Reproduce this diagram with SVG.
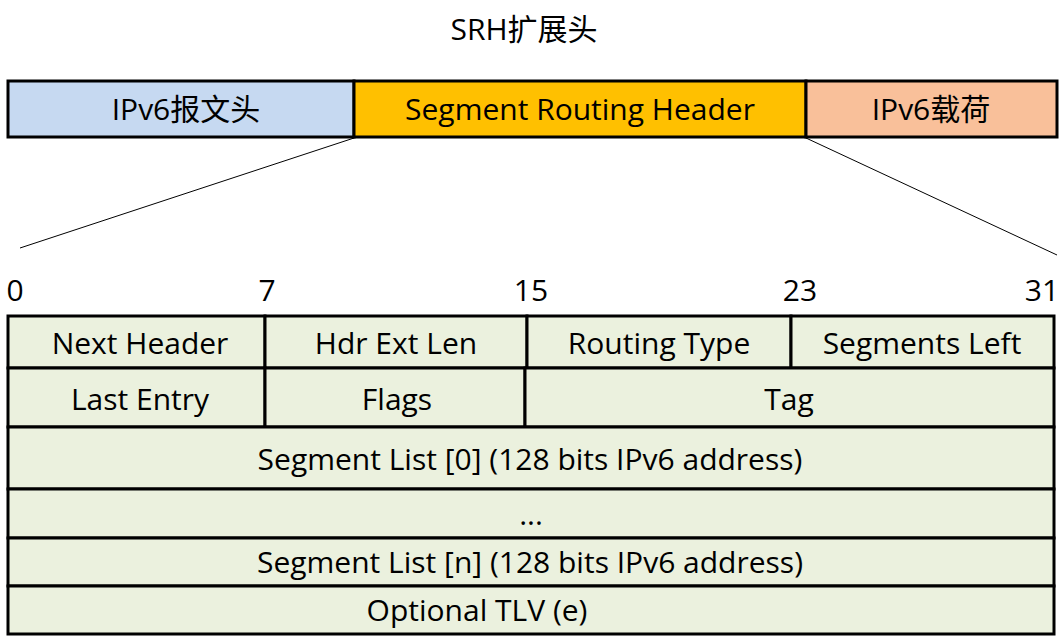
<svg xmlns="http://www.w3.org/2000/svg" width="1059" height="638" viewBox="0 0 1059 638">
<style>
text{font-family:"Open Sans","Noto Sans CJK SC",sans-serif;font-size:30px;fill:#000;text-anchor:middle;dominant-baseline:central}
.c{fill:#ebf1de;stroke:#000;stroke-width:3}
.b{stroke:#000;stroke-width:3}
</style>
<rect width="1059" height="638" fill="#fff"/>
<text x="524" y="28">SRH扩展头</text>
<g id="ipv6hdr"><rect class="b" x="8" y="81" width="346" height="56" fill="#c6d9f1"/><text x="186" y="108">IPv6报文头</text></g>
<g id="srh"><rect class="b" x="354" y="81" width="452" height="56" fill="#ffc000"/><text x="580" y="108">Segment Routing Header</text></g>
<g id="payload"><rect class="b" x="806" y="81" width="251" height="56" fill="#f9c09a"/><text x="931" y="108">IPv6载荷</text></g>
<g id="connectors" stroke="#000" stroke-width="1">
<line x1="354" y1="138" x2="20" y2="248"/><line x1="806" y1="138" x2="1057" y2="255"/>
</g>
<g id="bits"><text x="15" y="289">0</text><text x="267" y="289">7</text><text x="531" y="289">15</text><text x="800" y="289">23</text><text x="1042" y="289">31</text></g>
<g id="nh"><rect class="c" x="8" y="316" width="257" height="52"/><text x="140" y="342">Next Header</text></g>
<g id="hel"><rect class="c" x="265" y="316" width="262" height="52"/><text x="396" y="342">Hdr Ext Len</text></g>
<g id="rt"><rect class="c" x="527" y="316" width="264" height="52"/><text x="659" y="342">Routing Type</text></g>
<g id="sl"><rect class="c" x="791" y="316" width="263" height="52"/><text x="922" y="342">Segments Left</text></g>
<g id="le"><rect class="c" x="8" y="368" width="257" height="59"/><text x="140" y="398">Last Entry</text></g>
<g id="fl"><rect class="c" x="265" y="368" width="260" height="59"/><text x="397" y="398">Flags</text></g>
<g id="tag"><rect class="c" x="525" y="368" width="529" height="59"/><text x="789" y="398">Tag</text></g>
<g id="s0"><rect class="c" x="8" y="427" width="1046" height="62"/><text x="530" y="458">Segment List [0] (128 bits IPv6 address)</text></g>
<g id="dots"><rect class="c" x="8" y="489" width="1046" height="49"/><text x="531" y="513">...</text></g>
<g id="sn"><rect class="c" x="8" y="538" width="1046" height="48"/><text x="530" y="561">Segment List [n] (128 bits IPv6 address)</text></g>
<g id="tlv"><rect class="c" x="8" y="586" width="1046" height="48"/><text x="477" y="609">Optional TLV (e)</text></g>
</svg>
